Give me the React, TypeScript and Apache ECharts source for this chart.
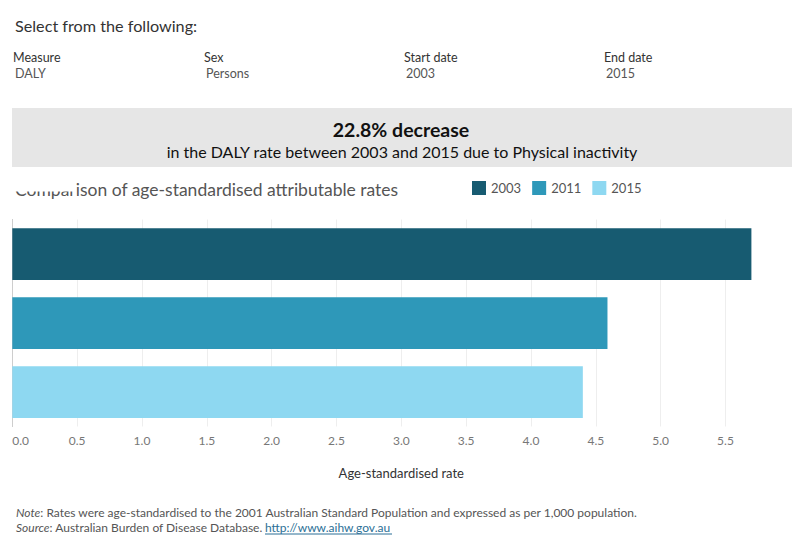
import React, { useEffect, useRef } from "react";
import * as echarts from "echarts";

const years = ["2003", "2011", "2015"];
const rates = [5.7, 4.59, 4.4];
const colors = ["#175b71", "#2e98b9", "#8ed8f1"];
const tickMax = 6;
const tickStep = 0.5;

const filterLabels = ["Measure", "Sex", "Start date", "End date"];
const filterValues = ["DALY", "Persons", "2003", "2015"];
const filterX = [13, 204, 404, 604];

const FONT = "Lato, 'Noto Sans', sans-serif";

export default function App() {
  const ref = useRef<HTMLDivElement>(null);
  useEffect(() => {
    document.body.style.margin = "0";
    const chart = echarts.init(ref.current!, null, { renderer: "svg" });
    const series = years.map((y, i) => ({
      name: y,
      type: "bar",
      stack: "all",
      barCategoryGap: "25%",
      itemStyle: { color: colors[i] },
      data: rates.map((v, j) => (j === i ? v : "-")),
    }));
    const nLines = Math.round(tickMax / tickStep) + 1;
    const splitColors = Array.from({ length: nLines }, (_, k) =>
      k === 0 || k === nLines - 1 ? "rgba(0,0,0,0)" : "#eeeeee"
    );
    const filterGraphics: any[] = [];
    filterLabels.forEach((l, i) => {
      filterGraphics.push({
        type: "text",
        x: filterX[i],
        y: 57,
        style: { text: l, fontSize: 12.5, fill: "#333", fontFamily: FONT, verticalAlign: "middle" },
      });
      filterGraphics.push({
        type: "text",
        x: filterX[i] + 2,
        y: 73,
        style: { text: filterValues[i], fontSize: 12.5, fill: "#555", fontFamily: FONT, verticalAlign: "middle" },
      });
    });
    chart.setOption({
      animation: false,
      textStyle: { fontFamily: FONT },
      grid: { left: 12.3, right: 9.7, top: 219.5, height: 207, containLabel: false },
      legend: {
        data: years,
        left: 472,
        top: 181,
        padding: 0,
        itemWidth: 14,
        itemHeight: 14,
        itemGap: 11,
        icon: "rect",
        textStyle: { fontSize: 13, color: "#555", fontFamily: FONT },
      },
      xAxis: {
        type: "value",
        min: 0,
        max: tickMax,
        interval: tickStep,
        name: "Age-standardised rate",
        nameLocation: "middle",
        nameGap: 40,
        nameTextStyle: { fontSize: 13, color: "#333", fontFamily: FONT },
        axisLine: { show: false },
        axisTick: { show: false },
        axisLabel: {
          color: "#777",
          fontSize: 12,
          margin: 8,
          fontFamily: FONT,
          showMaxLabel: false,
          alignMinLabel: "left",
          formatter: (v: number) => v.toFixed(1),
        },
        splitLine: { show: true, lineStyle: { color: splitColors, width: 1 } },
      },
      yAxis: {
        type: "category",
        data: years,
        inverse: true,
        axisLine: { show: true, lineStyle: { color: "#c8c8c8", type: "dotted", width: 1 } },
        axisTick: { show: false },
        axisLabel: { show: false },
        splitLine: { show: false },
      },
      series,
      graphic: [
        {
          type: "text",
          x: 15,
          y: 25,
          style: { text: "Select from the following:", fontSize: 16.2, fill: "#333", fontFamily: FONT, verticalAlign: "middle" },
        },
        ...filterGraphics,
        { type: "rect", shape: { x: 12, y: 108, width: 780, height: 59 }, style: { fill: "#e6e6e6" } },
        {
          type: "text",
          x: 401,
          y: 129,
          style: {
            text: "22.8% decrease",
            fontSize: 19.5,
            fontWeight: "bold",
            fill: "#111",
            fontFamily: FONT,
            align: "center",
            verticalAlign: "middle",
          },
        },
        {
          type: "text",
          x: 402,
          y: 151,
          style: {
            text: "in the DALY rate between 2003 and 2015 due to Physical inactivity",
            fontSize: 16,
            fill: "#111",
            fontFamily: FONT,
            align: "center",
            verticalAlign: "middle",
          },
        },
        {
          type: "text",
          x: 15,
          y: 189.5,
          style: {
            text: "Comparison of age-standardised attributable rates",
            fontSize: 17.5,
            fill: "#555",
            fontFamily: FONT,
            verticalAlign: "middle",
          },
        },
        { type: "rect", shape: { x: 10, y: 175, width: 66, height: 16.5 }, style: { fill: "#fff" } },
        {
          type: "text",
          x: 16,
          y: 512,
          style: {
            text: "{it|Note}: Rates were age-standardised to the 2001 Australian Standard Population and expressed as per 1,000 population.",
            fontSize: 12,
            fill: "#555",
            fontFamily: FONT,
            verticalAlign: "middle",
            rich: { it: { fontStyle: "italic", fontSize: 12, fill: "#555", fontFamily: FONT } },
          },
        },
        {
          type: "text",
          x: 16,
          y: 527,
          style: {
            text: "{it|Source}: Australian Burden of Disease Database. ",
            fontSize: 12,
            fill: "#555",
            fontFamily: FONT,
            verticalAlign: "middle",
            rich: { it: { fontStyle: "italic", fontSize: 12, fill: "#555", fontFamily: FONT } },
          },
        },
        {
          type: "text",
          x: 265,
          y: 527,
          style: { text: "http://www.aihw.gov.au", fontSize: 12, fill: "#2b6f96", fontFamily: FONT, verticalAlign: "middle" },
        },
        { type: "line", shape: { x1: 265, y1: 534, x2: 392, y2: 534 }, style: { stroke: "#2b6f96", lineWidth: 1 } },
      ],
    });
    return () => chart.dispose();
  }, []);
  return <div ref={ref} style={{ width: 800, height: 550 }} />;
}
